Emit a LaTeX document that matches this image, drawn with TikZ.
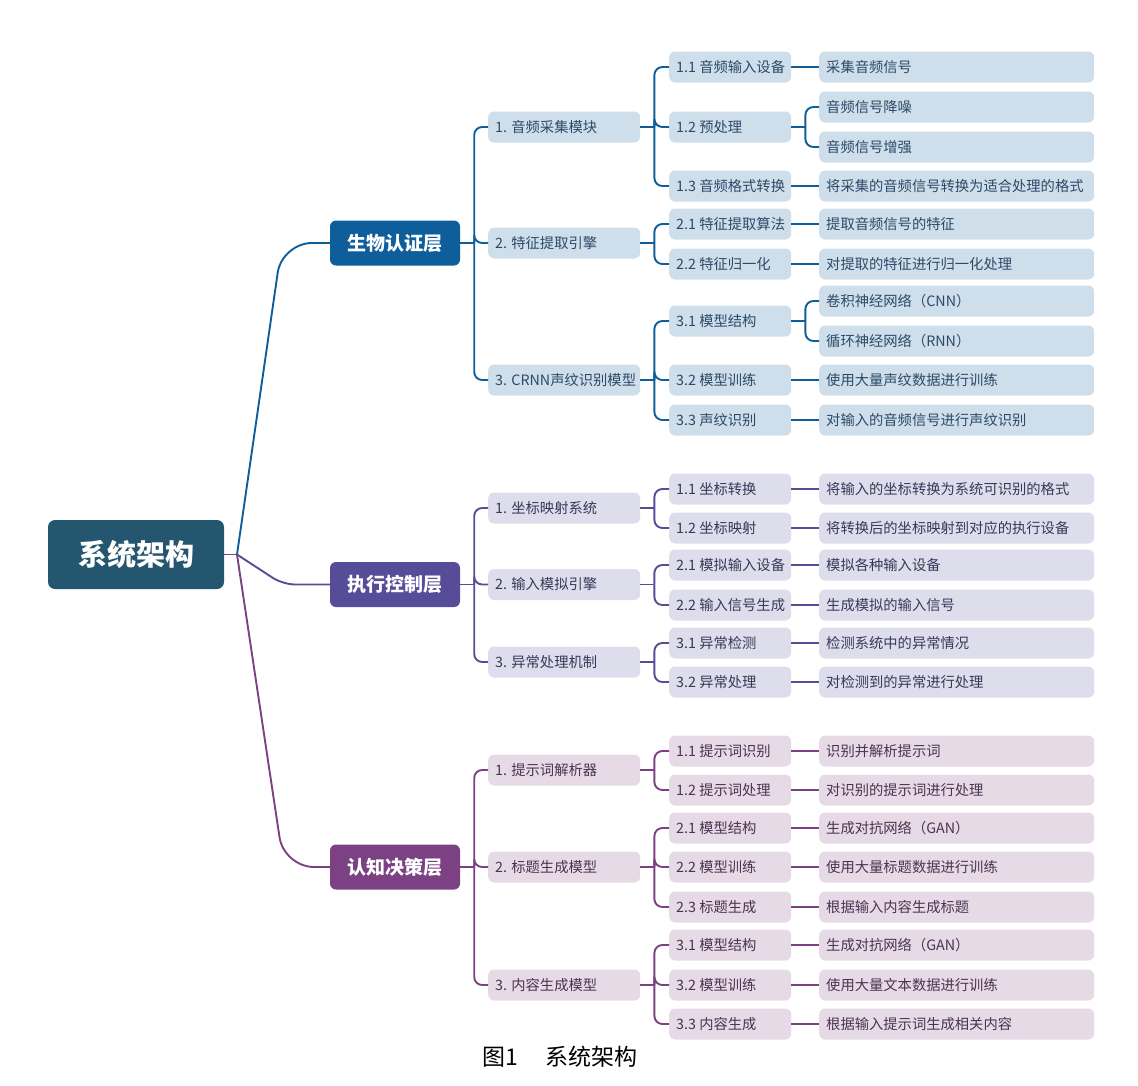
\documentclass[tikz,border=0pt]{standalone}
\usepackage{fontspec}
\setmainfont{Noto Sans CJK SC}
\definecolor{rootc}{HTML}{24566F}
\definecolor{bluec}{HTML}{0F5E9C}
\definecolor{bluelt}{HTML}{CFDEEB}
\definecolor{bluetx}{HTML}{2C4A68}
\definecolor{violc}{HTML}{564C97}
\definecolor{violt}{HTML}{DEDDEC}
\definecolor{viotx}{HTML}{3A3858}
\definecolor{purpc}{HTML}{7C4183}
\definecolor{purplt}{HTML}{E7DAE7}
\definecolor{purtx}{HTML}{4A3450}
\colorlet{lf}{bluelt}\colorlet{lx}{bluetx}\colorlet{ln}{bluec}
\newcommand\nfont{\fontsize{14.3}{17}\selectfont}
\newcommand\Ltwo[3]{\node[box] (#1) at (488,#2) {\makebox[138pt][l]{#3}};}
\newcommand\Lthree[3]{\node[box] (#1) at (669,#2) {\makebox[108pt][l]{#3}};}
\newcommand\Lfour[3]{\node[box] (#1) at (819,#2) {\makebox[261pt][l]{#3}};}
\newcommand\Tee[3]{\draw[conn] (#1.east) -- ++(#3,0); \draw[conn] ([xshift=#3]#1.east) |- (#2.west);}
\begin{document}
\begin{tikzpicture}[x=1pt,y=-1pt,
  box/.style={rounded corners=6pt, fill=lf, text=lx, inner xsep=7pt, inner ysep=0pt,
    minimum height=31pt, anchor=west, font=\nfont},
  conn/.style={draw=ln, line width=1.9pt, rounded corners=8pt},
  rootbox/.style={rounded corners=7pt, fill=rootc, text=white, minimum width=176pt,
    minimum height=69pt, font=\fontsize{29}{32}\selectfont\bfseries},
  lone/.style={rounded corners=6pt, text=white, minimum width=130pt, minimum height=45pt,
    font=\fontsize{19}{22}\selectfont\bfseries}]
\useasboundingbox (0,0) rectangle (1138,1085);

\node[rootbox] (root) at (136,554.5) {系统架构};
\node[lone, fill=bluec] (A) at (395,243) {生物认证层};
\node[lone, fill=violc] (B) at (395,584.5) {执行控制层};
\node[lone, fill=purpc] (C) at (395,867) {认知决策层};

\coordinate (hub) at (237,554.5);
\draw[draw=bluec, line width=1.9pt, rounded corners=30pt] (hub) -- (282,243) -- (A.west);
\draw[draw=violc, line width=1.9pt, rounded corners=12pt] (hub) -- (283,584.5) -- (B.west);
\draw[draw=purpc, line width=1.9pt, rounded corners=30pt] (hub) -- (284,867) -- (C.west);
\draw[draw=purpc, line width=1.9pt] (root.east) -- (hub);

% ---------- section A ----------
\colorlet{lf}{bluelt}\colorlet{lx}{bluetx}\colorlet{ln}{bluec}
\Ltwo{a1}{127}{1. 音频采集模块}
\Ltwo{a2}{243}{2. 特征提取引擎}
\Ltwo{a3}{380}{3. CRNN声纹识别模型}
\Lthree{a11}{67}{1.1 音频输入设备}
\Lthree{a12}{127}{1.2 预处理}
\Lthree{a13}{186}{1.3 音频格式转换}
\Lthree{a21}{224}{2.1 特征提取算法}
\Lthree{a22}{264}{2.2 特征归一化}
\Lthree{a31}{321}{3.1 模型结构}
\Lthree{a32}{380}{3.2 模型训练}
\Lthree{a33}{420}{3.3 声纹识别}
\Lfour{a111}{67}{采集音频信号}
\Lfour{a121}{107}{音频信号降噪}
\Lfour{a122}{147}{音频信号增强}
\Lfour{a131}{186}{将采集的音频信号转换为适合处理的格式}
\Lfour{a211}{224}{提取音频信号的特征}
\Lfour{a221}{264}{对提取的特征进行归一化处理}
\Lfour{a311}{301}{卷积神经网络（CNN）}
\Lfour{a312}{341}{循环神经网络（RNN）}
\Lfour{a321}{380}{使用大量声纹数据进行训练}
\Lfour{a331}{420}{对输入的音频信号进行声纹识别}
\Tee{A}{a1}{14}\Tee{A}{a2}{14}\Tee{A}{a3}{14}
\Tee{a1}{a11}{14}\Tee{a1}{a12}{14}\Tee{a1}{a13}{14}
\Tee{a2}{a21}{14}\Tee{a2}{a22}{14}
\Tee{a3}{a31}{14}\Tee{a3}{a32}{14}\Tee{a3}{a33}{14}
\draw[conn] (a11.east) -- (a111.west);
\Tee{a12}{a121}{14}\Tee{a12}{a122}{14}
\draw[conn] (a13.east) -- (a131.west);
\draw[conn] (a21.east) -- (a211.west);
\draw[conn] (a22.east) -- (a221.west);
\Tee{a31}{a311}{14}\Tee{a31}{a312}{14}
\draw[conn] (a32.east) -- (a321.west);
\draw[conn] (a33.east) -- (a331.west);

% ---------- section B ----------
\colorlet{lf}{violt}\colorlet{lx}{viotx}\colorlet{ln}{violc}
\Ltwo{b1}{508}{1. 坐标映射系统}
\Ltwo{b2}{584.5}{2. 输入模拟引擎}
\Ltwo{b3}{662}{3. 异常处理机制}
\Lthree{b11}{489}{1.1 坐标转换}
\Lthree{b12}{528}{1.2 坐标映射}
\Lthree{b21}{565}{2.1 模拟输入设备}
\Lthree{b22}{605}{2.2 输入信号生成}
\Lthree{b31}{643}{3.1 异常检测}
\Lthree{b32}{682}{3.2 异常处理}
\Lfour{b111}{489}{将输入的坐标转换为系统可识别的格式}
\Lfour{b121}{528}{将转换后的坐标映射到对应的执行设备}
\Lfour{b211}{565}{模拟各种输入设备}
\Lfour{b221}{605}{生成模拟的输入信号}
\Lfour{b311}{643}{检测系统中的异常情况}
\Lfour{b321}{682}{对检测到的异常进行处理}
\Tee{B}{b1}{14}\Tee{B}{b2}{14}\Tee{B}{b3}{14}
\Tee{b1}{b11}{14}\Tee{b1}{b12}{14}
\Tee{b2}{b21}{14}\Tee{b2}{b22}{14}
\Tee{b3}{b31}{14}\Tee{b3}{b32}{14}
\draw[conn] (b11.east) -- (b111.west);
\draw[conn] (b12.east) -- (b121.west);
\draw[conn] (b21.east) -- (b211.west);
\draw[conn] (b22.east) -- (b221.west);
\draw[conn] (b31.east) -- (b311.west);
\draw[conn] (b32.east) -- (b321.west);

% ---------- section C ----------
\colorlet{lf}{purplt}\colorlet{lx}{purtx}\colorlet{ln}{purpc}
\Ltwo{c1}{770}{1. 提示词解析器}
\Ltwo{c2}{867}{2. 标题生成模型}
\Ltwo{c3}{985}{3. 内容生成模型}
\Lthree{c11}{751}{1.1 提示词识别}
\Lthree{c12}{790}{1.2 提示词处理}
\Lthree{c21}{828}{2.1 模型结构}
\Lthree{c22}{867}{2.2 模型训练}
\Lthree{c23}{907}{2.3 标题生成}
\Lthree{c31}{945}{3.1 模型结构}
\Lthree{c32}{985}{3.2 模型训练}
\Lthree{c33}{1024}{3.3 内容生成}
\Lfour{c111}{751}{识别并解析提示词}
\Lfour{c121}{790}{对识别的提示词进行处理}
\Lfour{c211}{828}{生成对抗网络（GAN）}
\Lfour{c221}{867}{使用大量标题数据进行训练}
\Lfour{c231}{907}{根据输入内容生成标题}
\Lfour{c311}{945}{生成对抗网络（GAN）}
\Lfour{c321}{985}{使用大量文本数据进行训练}
\Lfour{c331}{1024}{根据输入提示词生成相关内容}
\Tee{C}{c1}{14}\Tee{C}{c2}{14}\Tee{C}{c3}{14}
\Tee{c1}{c11}{14}\Tee{c1}{c12}{14}
\Tee{c2}{c21}{14}\Tee{c2}{c22}{14}\Tee{c2}{c23}{14}
\Tee{c3}{c31}{14}\Tee{c3}{c32}{14}\Tee{c3}{c33}{14}
\draw[conn] (c11.east) -- (c111.west);
\draw[conn] (c12.east) -- (c121.west);
\draw[conn] (c21.east) -- (c211.west);
\draw[conn] (c22.east) -- (c221.west);
\draw[conn] (c23.east) -- (c231.west);
\draw[conn] (c31.east) -- (c311.west);
\draw[conn] (c32.east) -- (c321.west);
\draw[conn] (c33.east) -- (c331.west);

\node[font=\fontsize{23}{26}\selectfont, text=black] (cap) at (560,1057) {图1\hspace{28pt}系统架构};
\end{tikzpicture}
\end{document}
